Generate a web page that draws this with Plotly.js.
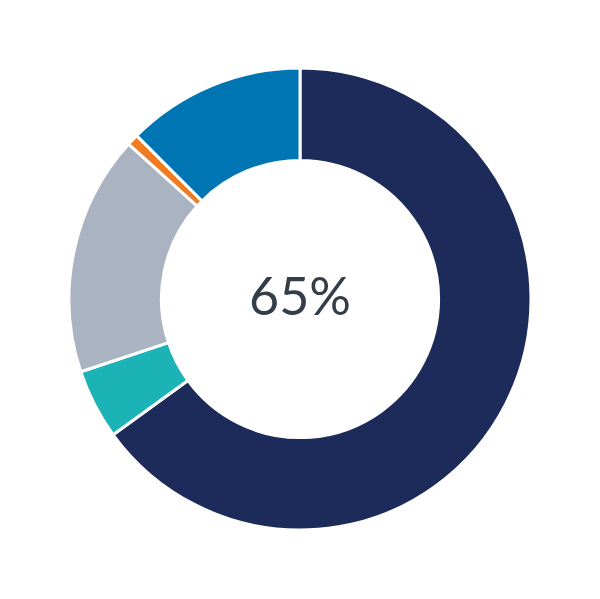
<!DOCTYPE html>
<html>
<head>
<meta charset="utf-8">
<script src="https://cdn.plot.ly/plotly-3.0.1.min.js"></script>
<style>html,body{margin:0;padding:0;background:#fff;}#chart{width:600px;height:599px;}</style>
</head>
<body>
<div id="chart"></div>
<script>
var labels = ["Navy", "Teal", "Gray", "Orange", "Blue"];
var values = [65.0, 4.9, 16.8, 0.8, 12.5];
var colors = ["#1c2b5a", "#1bb3b5", "#a9b3c1", "#ef7b22", "#0075b4"];
var centerLabel = "65%";

var data = [{
  type: "pie",
  labels: labels,
  values: values,
  sort: false,
  direction: "clockwise",
  rotation: 0,
  hole: 0.6,
  textinfo: "none",
  hoverinfo: "none",
  marker: {colors: colors, line: {color: "#ffffff", width: 3}},
  domain: {x: [0.115, 0.885], y: [0.1152, 0.8865]},
  showlegend: false
}];
var layout = {
  width: 600, height: 599,
  margin: {l: 0, r: 0, t: 0, b: 0},
  paper_bgcolor: "#ffffff",
  annotations: [{
    text: centerLabel, x: 0.5, y: 0.508, xref: "paper", yref: "paper",
    showarrow: false,
    font: {family: "Lato", size: 52, color: "#343e49", weight: 400}
  }]
};
Plotly.newPlot("chart", data, layout, {displayModeBar: false, staticPlot: true});
</script>
</body>
</html>
